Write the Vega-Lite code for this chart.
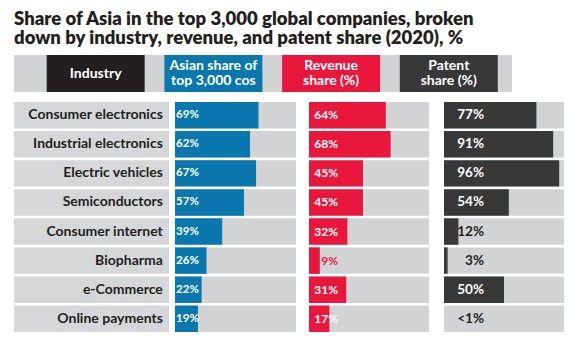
{
  "$schema": "https://vega.github.io/schema/vega-lite/v6.json",
  "background": "white",
  "padding": {"left": 14, "top": 9, "right": 0, "bottom": 0},
  "bounds": "flush",
  "title": {
    "text": ["Share of Asia in the top 3,000 global companies, broken", "down by industry, revenue, and patent share (2020), %"],
    "anchor": "start",
    "font": "Lato",
    "fontSize": 18.5,
    "fontWeight": 800,
    "color": "#231f20",
    "lineHeight": 19,
    "offset": 8
  },
  "config": {"view": {"stroke": null}, "font": "Lato"},
  "datasets": {
    "header": [
      {"h": "Industry"},
      {"h": "Asian share of|top 3,000 cos"},
      {"h": "Revenue|share (%)"},
      {"h": "Patent|share (%)"}
    ],
    "rows": [
      {"industry": "Consumer electronics", "asia": 69, "revenue": 64, "patent": 77, "asiaLabel": "69%", "revenueLabel": "64%", "patentLabel": "77%"},
      {"industry": "Industrial electronics", "asia": 62, "revenue": 68, "patent": 91, "asiaLabel": "62%", "revenueLabel": "68%", "patentLabel": "91%"},
      {"industry": "Electric vehicles", "asia": 67, "revenue": 45, "patent": 96, "asiaLabel": "67%", "revenueLabel": "45%", "patentLabel": "96%"},
      {"industry": "Semiconductors", "asia": 57, "revenue": 45, "patent": 54, "asiaLabel": "57%", "revenueLabel": "45%", "patentLabel": "54%"},
      {"industry": "Consumer internet", "asia": 39, "revenue": 32, "patent": 12, "asiaLabel": "39%", "revenueLabel": "32%", "patentLabel": "12%"},
      {"industry": "Biopharma", "asia": 26, "revenue": 9, "patent": 3, "asiaLabel": "26%", "revenueLabel": "9%", "patentLabel": "3%"},
      {"industry": "e-Commerce", "asia": 22, "revenue": 31, "patent": 50, "asiaLabel": "22%", "revenueLabel": "31%", "patentLabel": "50%"},
      {"industry": "Online payments", "asia": 19, "revenue": 17, "patent": 0, "asiaLabel": "19%", "revenueLabel": "17%", "patentLabel": "<1%"}
    ]
  },
  "spacing": 10,
  "vconcat": [
    {
      "width": 498,
      "height": 37,
      "view": {"fill": "#d1d3d4"},
      "data": {"name": "header"},
      "encoding": {
        "x": {"field": "h", "type": "nominal", "sort": null, "axis": null,
              "scale": {"paddingInner": 0.1674, "paddingOuter": 0.1992, "align": 0.697}}
      },
      "layer": [
        {
          "mark": {"type": "rect"},
          "encoding": {
            "color": {"field": "h", "type": "nominal", "legend": null,
                      "scale": {"domain": ["Industry", "Asian share of|top 3,000 cos", "Revenue|share (%)", "Patent|share (%)"],
                                "range": ["#231f20", "#0a78ae", "#e8173b", "#383838"]}}
          }
        },
        {
          "transform": [{"filter": "indexof(datum.h, '|') < 0"}],
          "mark": {"type": "text", "color": "white", "fontSize": 14, "fontWeight": 700, "baseline": "middle", "align": "center"},
          "encoding": {"text": {"field": "h", "type": "nominal"}}
        },
        {
          "transform": [{"filter": "indexof(datum.h, '|') >= 0"}],
          "mark": {"type": "text", "color": "white", "font": "Lato", "fontSize": 14, "fontWeight": 700, "lineBreak": "|", "lineHeight": 15, "baseline": "middle", "align": "center", "dy": -7.5},
          "encoding": {"text": {"field": "h", "type": "nominal"}}
        }
      ]
    },
    {
      "spacing": 0,
      "bounds": "flush",
      "data": {"name": "rows"},
      "hconcat": [
        {
          "width": 155,
          "height": 230,
          "encoding": {
            "y": {"field": "industry", "type": "nominal", "sort": null, "axis": null, "scale": {"paddingInner": 0.09, "paddingOuter": 0}}
          },
          "layer": [
            {
              "mark": {"type": "rect", "color": "#d6d7d9"},
              "encoding": {
                "x": {"datum": 0, "type": "quantitative", "scale": {"domain": [0, 100]}, "axis": null},
                "x2": {"datum": 100}
              }
            },
            {
              "mark": {"type": "text", "align": "right", "baseline": "middle", "fontSize": 14, "fontWeight": "bold", "color": "#231f20"},
              "encoding": {
                "x": {"datum": 96, "type": "quantitative"},
                "text": {"field": "industry", "type": "nominal"}
              }
            }
          ]
        },
        {
          "width": 127,
          "height": 230,
          "encoding": {
            "y": {"field": "industry", "type": "nominal", "sort": null, "axis": null, "scale": {"paddingInner": 0.09, "paddingOuter": 0}}
          },
          "layer": [
            {
              "mark": {"type": "rect", "color": "#d1d3d4"},
              "encoding": {
                "x": {"datum": 0, "type": "quantitative", "scale": {"domain": [0, 100], "range": [6, 127]}, "axis": null},
                "x2": {"datum": 100}
              }
            },
            {
              "mark": {"type": "bar", "color": "#0a78ae"},
              "encoding": {"x": {"field": "asia", "type": "quantitative", "stack": null}}
            },
            {
              "mark": {"type": "text", "align": "right", "baseline": "middle", "fontSize": 11.5, "fontWeight": "bold", "color": "white"},
              "encoding": {
                "x": {"datum": 19.7, "type": "quantitative"},
                "text": {"field": "asiaLabel", "type": "nominal"}
              }
            }
          ]
        },
        {
          "width": 133,
          "height": 230,
          "encoding": {
            "y": {"field": "industry", "type": "nominal", "sort": null, "axis": null, "scale": {"paddingInner": 0.09, "paddingOuter": 0}}
          },
          "layer": [
            {
              "mark": {"type": "rect", "color": "#d1d3d4"},
              "encoding": {
                "x": {"datum": 0, "type": "quantitative", "scale": {"domain": [0, 100], "range": [13, 133]}, "axis": null},
                "x2": {"datum": 100}
              }
            },
            {
              "mark": {"type": "bar", "color": "#e8173b"},
              "encoding": {"x": {"field": "revenue", "type": "quantitative", "stack": null}}
            },
            {
              "mark": {"type": "text", "align": "right", "baseline": "middle", "fontSize": 12, "fontWeight": "bold"},
              "encoding": {
                "x": {"datum": 24.2, "type": "quantitative"},
                "text": {"field": "revenueLabel", "type": "nominal"},
                "color": {"condition": {"test": "datum.revenue < 10", "value": "#e8173b"}, "value": "white"}
              }
            }
          ]
        },
        {
          "width": 135,
          "height": 230,
          "encoding": {
            "y": {"field": "industry", "type": "nominal", "sort": null, "axis": null, "scale": {"paddingInner": 0.09, "paddingOuter": 0}}
          },
          "layer": [
            {
              "mark": {"type": "rect", "color": "#d1d3d4"},
              "encoding": {
                "x": {"datum": 0, "type": "quantitative", "scale": {"domain": [0, 100], "range": [15, 135]}, "axis": null},
                "x2": {"datum": 100}
              }
            },
            {
              "mark": {"type": "bar", "color": "#383838"},
              "encoding": {"x": {"field": "patent", "type": "quantitative", "stack": null}}
            },
            {
              "mark": {"type": "text", "align": "right", "baseline": "middle", "fontSize": 13.5, "fontWeight": "bold"},
              "encoding": {
                "x": {"datum": 33.3, "type": "quantitative"},
                "text": {"field": "patentLabel", "type": "nominal"},
                "color": {"condition": {"test": "datum.patent < 20", "value": "#231f20"}, "value": "white"}
              }
            }
          ]
        }
      ]
    }
  ]
}
